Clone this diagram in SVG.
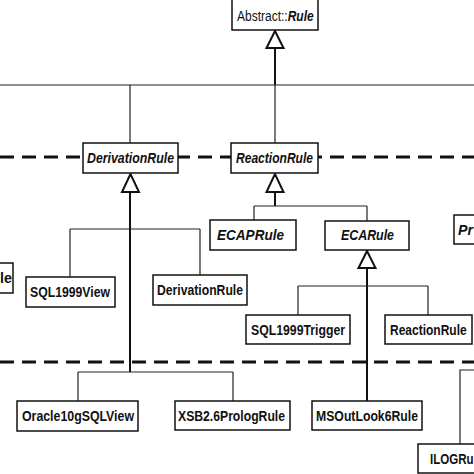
<svg xmlns="http://www.w3.org/2000/svg" width="474" height="474" viewBox="0 0 474 474">
<style>
.bx{fill:#fff;stroke:#111;stroke-width:1.5}
.t{font-family:"Liberation Sans",Arial,sans-serif;font-size:15px;fill:#111}
.b{font-weight:bold}
.bi{font-weight:bold;font-style:italic}
.th{fill:none;stroke:#222;stroke-width:1.2}
.tk{fill:none;stroke:#111;stroke-width:2}
.dash{fill:none;stroke:#111;stroke-width:3;stroke-dasharray:14 8}
.tri{fill:#fff;stroke:#111;stroke-width:2;stroke-linejoin:miter}
</style>
<rect width="474" height="474" fill="#fff"/>
<g id="layers">
<line class="dash" x1="0" y1="157" x2="474" y2="157"/>
<line class="dash" x1="0" y1="362" x2="474" y2="362"/>
</g>
<g id="connectors">
<path class="tk" d="M275,48 V85"/>
<path class="th" d="M0,85 H474 M130,85 V143 M275,85 V143"/>
<path class="tk" d="M130,192 V372"/>
<path class="th" d="M70,229 H200 M70,229 V277 M200,229 V275"/>
<path class="th" d="M78,372 H233 M78,372 V401 M233,372 V401"/>
<path class="tk" d="M275,192 V206"/>
<path class="th" d="M254,206 H367 M254,206 V220 M367,206 V221"/>
<path class="tk" d="M367,268 V401"/>
<path class="th" d="M298,286 H428 M298,286 V315 M428,286 V315"/>
<path class="th" d="M460,444 V370 H474"/>
<polygon class="tri" points="275,31 266.5,48 283.5,48"/>
<polygon class="tri" points="130.5,174 122,192 139,192"/>
<polygon class="tri" points="275,174 266.5,192 283.5,192"/>
<polygon class="tri" points="367,251 358.5,268 375.5,268"/>
</g>
<g id="abstract-rule">
<rect class="bx" x="232" y="-1" width="86" height="31"/>
<text class="t" transform="translate(237,21) scale(0.8,1)">Abstract::<tspan class="bi">Rule</tspan></text>
</g>
<g id="derivation-rule-abstract">
<rect class="bx" x="83" y="143" width="95" height="30"/>
<text class="t bi" x="87" y="163" textLength="87" lengthAdjust="spacingAndGlyphs">DerivationRule</text>
</g>
<g id="reaction-rule-abstract">
<rect class="bx" x="231" y="143" width="87" height="30"/>
<text class="t bi" x="236" y="163" textLength="77" lengthAdjust="spacingAndGlyphs">ReactionRule</text>
</g>
<g id="left-cut">
<rect class="bx" x="-5" y="263" width="18" height="30"/>
<text class="t b" x="12" y="283" text-anchor="end" textLength="12" lengthAdjust="spacingAndGlyphs">le</text>
</g>
<g id="sql1999view">
<rect class="bx" x="26" y="277" width="89" height="30"/>
<text class="t b" x="30" y="297" textLength="80" lengthAdjust="spacingAndGlyphs">SQL1999View</text>
</g>
<g id="derivation-rule">
<rect class="bx" x="153" y="275" width="94" height="30"/>
<text class="t b" x="157" y="295" textLength="86" lengthAdjust="spacingAndGlyphs">DerivationRule</text>
</g>
<g id="ecaprule">
<rect class="bx" x="210" y="220" width="86" height="30"/>
<text class="t bi" x="217" y="240" textLength="67" lengthAdjust="spacingAndGlyphs">ECAPRule</text>
</g>
<g id="ecarule">
<rect class="bx" x="325" y="221" width="84" height="29"/>
<text class="t bi" x="341" y="240" textLength="53" lengthAdjust="spacingAndGlyphs">ECARule</text>
</g>
<g id="right-cut">
<rect class="bx" x="454" y="215" width="30" height="29"/>
<text class="t bi" x="458" y="235" textLength="15" lengthAdjust="spacingAndGlyphs">Pr</text>
</g>
<g id="sql1999trigger">
<rect class="bx" x="246" y="315" width="104" height="29"/>
<text class="t b" x="251" y="335" textLength="94" lengthAdjust="spacingAndGlyphs">SQL1999Trigger</text>
</g>
<g id="reaction-rule">
<rect class="bx" x="385" y="315" width="87" height="29"/>
<text class="t b" transform="translate(390,335) scale(0.8,1)">ReactionRule</text>
</g>
<g id="oracle10gsqlview">
<rect class="bx" x="17" y="401" width="121" height="30"/>
<text class="t b" x="22" y="421" textLength="112" lengthAdjust="spacingAndGlyphs">Oracle10gSQLView</text>
</g>
<g id="xsb-prolog-rule">
<rect class="bx" x="175" y="401" width="115" height="29"/>
<text class="t b" x="178" y="421" textLength="107" lengthAdjust="spacingAndGlyphs">XSB2.6PrologRule</text>
</g>
<g id="msoutlook6rule">
<rect class="bx" x="312" y="401" width="110" height="29"/>
<text class="t b" x="316" y="421" textLength="102" lengthAdjust="spacingAndGlyphs">MSOutLook6Rule</text>
</g>
<g id="ilogrule">
<rect class="bx" x="418" y="444" width="70" height="29"/>
<text class="t b" transform="translate(430,464) scale(0.77,1)">ILOGRu</text>
</g>
</svg>
